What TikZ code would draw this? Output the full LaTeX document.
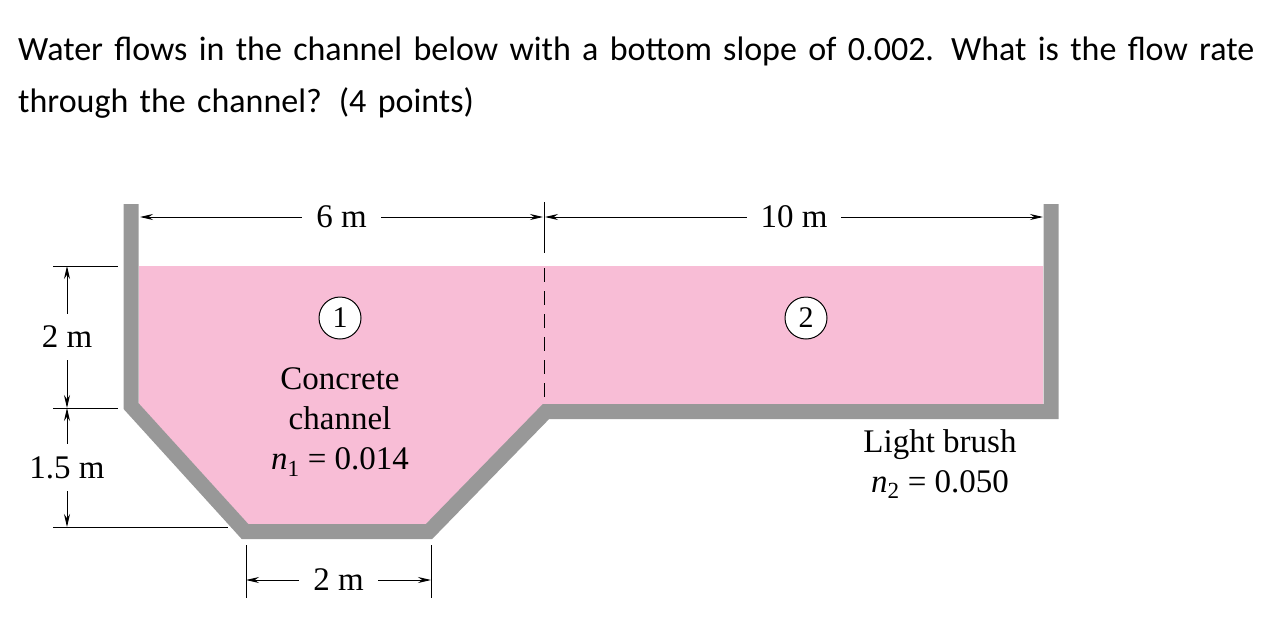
\documentclass[tikz,border=0pt]{standalone}
\usepackage{fontspec}
\setmainfont{Liberation Serif}
\newfontfamily\titlefont{Carlito}
\usetikzlibrary{arrows.meta}
\definecolor{water}{RGB}{248,189,214}
\definecolor{wallgray}{RGB}{152,152,152}
\tikzset{
  dim/.style={line width=1pt,{Stealth[length=13pt,width=6pt]}-{Stealth[length=13pt,width=6pt]}},
  ext/.style={line width=1pt},
  lab/.style={font=\fontsize{33}{36}\selectfont,fill=white,inner xsep=14pt,inner ysep=4pt},
  vlab/.style={font=\fontsize{33}{36}\selectfont,fill=white,inner xsep=0pt,inner ysep=12pt},
  txt/.style={font=\fontsize{33}{40}\selectfont,align=center},
  num/.style={circle,draw,line width=1pt,fill=white,inner sep=1pt,minimum size=42pt,font=\fontsize{30}{30}\selectfont}
}
\newcommand{\nsub}[1]{{\itshape n}\textsubscript{#1}}
\begin{document}
\begin{tikzpicture}[x=1pt,y=-1pt]
\useasboundingbox (0,0) rectangle (1287,624);
\node[anchor=base west,font=\titlefont\fontsize{34}{52}\selectfont,align=left,text width=1280pt,inner sep=0pt] (title) at (18,60) {Water flows in the channel below with a bottom slope of 0.002. What is the flow rate\\through the channel? (4 points)};
% water
\fill[water] (139,266) -- (139,404) -- (248,524) -- (426,524) -- (544,404) -- (1043,404) -- (1043,266) -- cycle;
% wall
\draw[wallgray,line width=15pt,line join=miter] (131,204) -- (131,406) -- (245,531.5) -- (429,531.5) -- (546,411.5) -- (1051,411.5) -- (1051,204);
% dashed divider
\coordinate (d1) at (544,268); \coordinate (d2) at (544,402);
\draw[ext,dash pattern=on 14pt off 9pt] (d1) -- (d2);
% top dims
\coordinate (a1) at (140,217); \coordinate (a2) at (543,217);
\coordinate (a3) at (545,217); \coordinate (a4) at (1043,217);
\coordinate (t1) at (544,202); \coordinate (t2) at (544,253);
\draw[ext] (t1) -- (t2);
\draw[dim] (a1) -- node[lab] (six) {6 m} (a2);
\draw[dim] (a3) -- node[lab] (ten) {10 m} (a4);
% left dims
\coordinate (e1a) at (53,266); \coordinate (e1b) at (118,266);
\coordinate (e2a) at (53,408); \coordinate (e2b) at (118,408);
\coordinate (e3a) at (53,527); \coordinate (e3b) at (228,527);
\draw[ext] (e1a) -- (e1b); \draw[ext] (e2a) -- (e2b); \draw[ext] (e3a) -- (e3b);
\coordinate (v1) at (67,266); \coordinate (v2) at (67,408); \coordinate (v3) at (67,527);
\draw[dim] (v1) -- node[vlab] (two) {2 m} (v2);
\draw[dim] (v2) -- node[vlab] (onefive) {1.5 m} (v3);
% bottom dim
\coordinate (b1) at (246,545); \coordinate (b2) at (246,598);
\coordinate (b3) at (431,545); \coordinate (b4) at (431,598);
\draw[ext] (b1) -- (b2); \draw[ext] (b3) -- (b4);
\coordinate (h1) at (246,580); \coordinate (h2) at (431,580);
\draw[dim] (h1) -- node[lab] (twob) {2 m} (h2);
% labels
\node[num] (c1) at (340,318) {1};
\node[num] (c2) at (806,318) {2};
\node[txt] (conc) at (340,422) {Concrete\\channel\\\nsub{1} = 0.014};
\node[txt] (brush) at (940,464) {Light brush\\\nsub{2} = 0.050};
\end{tikzpicture}
\end{document}
